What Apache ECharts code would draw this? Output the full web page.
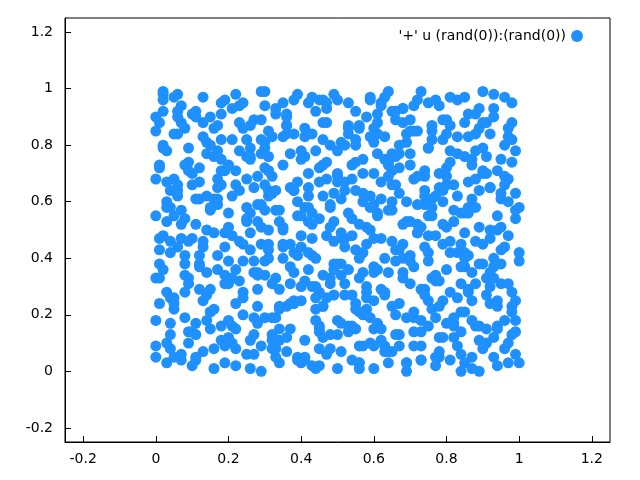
<!DOCTYPE html>
<html><head><meta charset="utf-8">
<script src="https://cdn.jsdelivr.net/npm/echarts@6/dist/echarts.min.js"></script>
<style>html,body{margin:0;background:#fff}#c{width:640px;height:480px}</style>
</head><body><div id="c"></div>
<script>
// point positions read (approximately) off the picture, in hundredths
const xs = [
 2,7,13,18,24,29,33,38,44,49,53,58,63,68,73,78,83,88,93,98,
 1,5,11,16,21,27,31,36,41,46,51,56,61,66,71,76,81,86,91,96,
 3,9,14,19,25,30,35,40,45,50,55,60,65,70,75,80,85,90,95,99,
 0,6,12,17,22,28,32,37,42,47,52,57,62,67,72,77,82,87,92,97,
 4,8,15,20,26,29,34,39,43,48,54,59,64,69,74,79,84,89,94,100,
 2,6,10,17,23,26,31,35,42,47,52,56,62,66,72,75,81,86,90,97,
 1,8,12,19,22,27,33,38,41,49,51,58,60,68,70,78,80,88,92,95,
 3,5,14,15,24,28,36,40,44,45,55,57,63,65,74,76,83,85,94,98,
 0,9,11,18,21,30,32,37,46,50,53,59,61,67,71,79,82,89,91,99,
 4,7,13,16,25,29,34,39,43,48,54,60,64,69,73,77,84,87,93,96,
 2,8,14,19,23,26,33,36,41,47,53,55,62,67,70,76,81,88,93,97,
 1,6,11,16,25,28,31,38,43,46,50,59,63,65,74,78,83,86,90,99,
 3,9,12,20,21,30,35,40,42,49,52,57,61,68,72,79,82,89,94,95,
 0,5,15,17,24,27,32,37,45,48,54,58,64,66,73,75,85,87,92,98,
 4,7,10,18,22,29,34,39,44,50,51,56,60,69,71,77,80,84,91,100,
 2,6,13,18,23,31,30,36,42,45,55,57,65,67,70,79,80,88,95,96,
 1,8,11,15,26,28,33,38,44,48,51,59,61,68,74,76,84,85,91,98,
 3,5,14,20,22,32,34,40,41,47,54,56,63,66,73,78,82,89,93,99,
 0,9,12,17,25,29,35,37,43,46,53,60,62,69,71,75,81,86,94,97,
 4,7,10,19,21,27,31,39,45,49,52,58,64,65,72,77,83,87,90,92,
 2,8,13,16,24,30,32,36,46,50,56,58,61,66,75,78,81,85,92,97,
 1,6,15,18,23,29,34,41,42,47,52,54,62,68,71,79,84,87,94,99,
 3,9,11,20,26,31,33,38,43,49,55,59,60,67,73,76,80,88,91,96,
 0,5,12,17,22,27,35,40,44,48,51,57,64,69,70,77,83,86,93,98,
 4,7,14,19,25,28,30,37,45,46,53,60,63,65,74,75,82,89,90,100,
 2,10,13,17,21,31,34,39,41,48,56,57,62,68,72,77,85,88,95,96,
 1,6,11,16,24,29,32,36,44,50,53,55,61,66,73,79,81,86,92,98,
 3,8,15,19,22,27,33,38,42,47,51,59,64,69,71,76,83,87,90,99,
 0,5,14,20,26,30,35,40,45,49,54,58,60,67,74,78,80,89,94,97,
 4,9,12,18,23,28,31,37,43,46,52,56,63,65,70,75,84,85,91,93,
 2,7,10,16,25,32,30,33,41,45,55,58,62,67,72,78,81,86,93,96,
 1,5,13,19,21,26,34,39,46,48,51,56,64,68,71,77,84,88,90,99,
 3,8,15,17,24,28,31,36,43,50,54,59,60,66,74,79,82,87,95,98,
 0,6,11,20,22,29,33,38,42,47,53,57,63,69,70,76,80,85,92,97,
 4,9,12,18,26,30,35,40,44,49,52,55,61,65,73,75,83,89,94,100,
 2,7,14,16,23,27,32,37,45,46,50,60,62,68,72,78,81,86,91,96,
 1,5,10,19,25,31,34,39,41,48,56,58,64,66,71,77,85,88,93,99,
 3,8,13,17,21,29,30,36,43,47,51,57,60,67,74,79,82,87,90,98,
 0,6,15,20,24,28,33,38,44,50,55,59,63,69,70,76,84,89,95,97,
 4,9,11,18,22,26,35,40,42,45,53,56,61,65,73,75,80,85,92,94
];
const ys = [
 98,94,97,91,95,99,93,96,92,98,95,90,97,93,99,94,96,91,98,95,
 88,84,90,86,82,89,85,87,83,88,81,86,84,89,85,82,87,83,88,80,
 78,74,77,71,76,79,73,75,72,78,74,70,77,73,79,72,76,71,75,78,
 68,64,67,61,66,69,63,65,62,68,64,60,67,63,69,62,66,61,65,68,
 58,54,57,51,56,59,53,55,52,58,54,50,57,53,59,52,56,51,55,58,
 48,44,47,41,46,49,43,45,42,48,44,40,47,43,49,42,46,41,45,48,
 38,34,37,31,36,39,33,35,32,38,34,30,37,33,39,32,36,31,35,38,
 28,24,27,21,26,29,23,25,22,28,24,20,27,23,29,22,26,21,25,28,
 18,14,17,11,16,19,13,15,12,18,14,10,17,13,19,12,16,11,15,18,
 8,4,7,1,6,9,3,5,2,8,4,1,7,3,9,2,6,1,5,8,
 92,86,81,96,88,79,91,84,76,93,87,82,95,80,89,85,97,78,90,83,
 73,66,61,76,68,59,71,64,56,73,67,62,75,60,69,65,77,58,70,63,
 53,46,41,56,48,39,51,44,36,53,47,42,55,40,49,45,57,38,50,43,
 33,26,21,36,28,19,31,24,16,33,27,22,35,20,29,25,37,18,30,23,
 13,6,2,16,8,0,11,4,1,13,7,3,15,0,9,5,17,0,10,3,
 99,90,83,75,94,71,66,87,58,96,80,63,92,77,53,89,69,84,61,97,
 47,38,52,29,43,34,57,24,40,31,49,19,36,45,27,55,14,42,33,21,
 10,5,18,12,2,8,15,3,11,6,16,1,9,13,4,7,17,0,12,6,
 85,79,72,65,58,51,44,37,30,23,16,9,94,81,68,55,42,29,16,3,
 64,57,70,49,62,35,76,41,54,27,67,20,74,46,59,32,83,25,38,50,
 96,73,88,61,45,34,19,7,82,69,52,28,91,66,39,12,78,56,24,86,
 43,98,15,71,32,89,57,4,65,26,80,48,11,93,37,60,21,75,2,54,
 67,31,92,18,76,50,8,84,41,63,22,97,35,72,14,58,89,46,27,69,
 5,55,38,87,24,65,95,30,78,13,47,70,3,60,85,19,42,91,33,74,
 26,88,62,9,53,17,81,45,2,96,36,59,83,7,71,48,12,64,99,39,
 79,14,44,68,93,40,23,60,86,51,9,75,29,88,52,34,97,16,63,44,
 33,62,5,49,20,77,11,91,30,70,84,15,56,39,4,82,28,67,47,13,
 58,41,80,34,98,6,64,25,53,95,38,58,73,19,94,61,9,35,79,25,
 90,22,50,73,11,57,83,48,14,36,68,26,86,43,64,23,51,86,15,60,
 17,71,29,95,64,35,45,77,97,62,27,87,7,66,31,79,45,3,70,93,
 36,52,66,8,82,69,72,19,58,8,92,45,61,24,85,5,74,56,40,18,
 72,97,25,44,10,87,22,67,34,80,17,33,99,52,14,96,37,68,88,57,
 3,28,90,59,39,23,62,90,47,1,73,83,25,76,44,64,19,5,31,82,
 55,84,13,31,71,45,5,42,70,88,56,9,40,3,77,33,84,49,65,10,
 42,10,61,82,1,99,40,55,18,46,31,64,88,71,51,16,62,93,23,42,
 80,47,35,22,78,13,83,31,67,23,96,81,15,35,96,70,4,28,76,66,
 24,68,91,3,54,64,29,98,5,59,3,51,69,92,21,48,88,58,37,14,
 60,19,46,78,33,82,94,12,84,74,61,35,47,9,62,25,53,73,8,88,
 9,92,58,39,86,53,11,64,26,38,43,96,28,84,41,87,31,16,51,31,
 46,33,4,66,15,75,50,78,95,15,86,21,77,57,18,95,66,40,84,71
];

const points = xs.map((x, i) => [x / 100, ys[i] / 100]);
const tickVals = [-0.2, 0, 0.2, 0.4, 0.6, 0.8, 1, 1.2];

const chart = echarts.init(document.getElementById('c'));
chart.setOption({
  animation: false,
  textStyle: { fontFamily: 'DejaVu Sans' },
  grid: { left: 65, right: 30, top: 18, bottom: 38, show: true, borderColor: '#000', borderWidth: 1 },
  legend: {
    right: 52, top: 24, icon: 'circle', align: 'right', itemWidth: 12, itemHeight: 12,
    textStyle: { fontSize: 14, color: '#000' }
  },
  xAxis: {
    type: 'value', min: -0.25, max: 1.25,
    splitLine: { show: false },
    axisLine: { onZero: false, lineStyle: { color: '#000' } },
    axisTick: { inside: true, length: 6, customValues: tickVals, lineStyle: { color: '#000' } },
    axisLabel: { customValues: tickVals, color: '#000', fontSize: 14, margin: 10 }
  },
  yAxis: {
    type: 'value', min: -0.25, max: 1.25,
    splitLine: { show: false },
    axisLine: { show: true, onZero: false, lineStyle: { color: '#000' } },
    axisTick: { show: true, inside: true, length: 6, customValues: tickVals, lineStyle: { color: '#000' } },
    axisLabel: { customValues: tickVals, color: '#000', fontSize: 14, margin: 12 }
  },
  series: [{
    name: "'+' u (rand(0)):(rand(0))",
    type: 'scatter', data: points, symbolSize: 11,
    itemStyle: { color: '#1e90ff', opacity: 1 }
  }]
});
</script></body></html>
